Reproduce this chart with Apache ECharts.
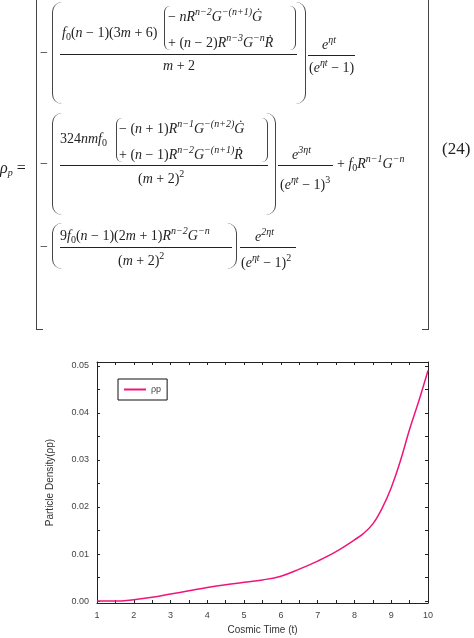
<!DOCTYPE html>
<html><head><meta charset="utf-8">
<script src="https://cdn.jsdelivr.net/npm/echarts@6/dist/echarts.min.js"></script>
<style>
body{margin:0;background:#fff;}
#wrap{position:relative;width:474px;height:638px;overflow:hidden;}
#chart{position:absolute;left:0;top:0;width:474px;height:638px;}
#eq{position:absolute;left:0;top:0;width:474px;height:340px;font-family:"Liberation Serif","DejaVu Serif",serif;font-size:14px;color:#222;z-index:2;}
#eq div{position:absolute;white-space:nowrap;line-height:1;}
.i{font-style:italic;}
sup{font-size:10px;vertical-align:6px;line-height:0;}
sub{font-size:10px;vertical-align:-3px;line-height:0;}
.bar{height:0;border-top:1px solid #222;}
.br{border:1.2px solid #444;}
.par{border:1px solid #444;border-radius:10px;}
</style></head><body>
<div id="wrap">
<div id="chart"></div>
<div id="eq">
  <div class="br" style="left:36px;top:-2px;width:6px;height:330px;border-right:none;"></div>
  <div class="br" style="left:422px;top:-2px;width:6px;height:330px;border-left:none;"></div>
  <div style="left:0;top:160px;font-size:16px;"><span class="i">ρ<sub>p</sub></span> =</div>
  <div style="left:442px;top:140px;font-size:17px;">(24)</div>
  <!-- row 1 -->
  <div style="left:40px;top:46px;">−</div>
  <div class="par" style="left:52px;top:2px;width:252px;height:102px;border-top:none;border-bottom:none;"></div>
  <div style="left:62px;top:26px;"><span class="i">f</span><sub>0</sub>(<span class="i">n</span> − 1)(3<span class="i">m</span> + 6)</div>
  <div class="par" style="left:164px;top:6px;width:130px;height:44px;border-top:none;border-bottom:none;border-radius:6px;"></div>
  <div style="left:168px;top:10px;">− <span class="i">nR<sup>n−2</sup>G<sup>−(n+1)</sup>Ġ</span></div>
  <div style="left:168px;top:36px;">+ (<span class="i">n</span> − 2)<span class="i">R<sup>n−3</sup>G<sup>−n</sup>Ṙ</span></div>
  <div class="bar" style="left:60px;top:54px;width:237px;"></div>
  <div style="left:163px;top:59px;"><span class="i">m</span> + 2</div>
  <div style="left:322px;top:38px;"><span class="i">e<sup>ηt</sup></span></div>
  <div class="bar" style="left:308px;top:55px;width:47px;"></div>
  <div style="left:309px;top:61px;">(<span class="i">e<sup>ηt</sup></span> − 1)</div>
  <!-- row 2 -->
  <div style="left:40px;top:157px;">−</div>
  <div class="par" style="left:52px;top:113px;width:222px;height:102px;border-top:none;border-bottom:none;"></div>
  <div style="left:60px;top:132px;">324<span class="i">nmf</span><sub>0</sub></div>
  <div class="par" style="left:116px;top:118px;width:150px;height:44px;border-top:none;border-bottom:none;border-radius:6px;"></div>
  <div style="left:119px;top:122px;">− (<span class="i">n</span> + 1)<span class="i">R<sup>n−1</sup>G<sup>−(n+2)</sup>Ġ</span></div>
  <div style="left:119px;top:148px;">+ (<span class="i">n</span> − 1)<span class="i">R<sup>n−2</sup>G<sup>−(n+1)</sup>Ṙ</span></div>
  <div class="bar" style="left:60px;top:165px;width:208px;"></div>
  <div style="left:138px;top:172px;">(<span class="i">m</span> + 2)<sup>2</sup></div>
  <div style="left:292px;top:148px;"><span class="i">e<sup>3ηt</sup></span></div>
  <div class="bar" style="left:278px;top:165px;width:55px;"></div>
  <div style="left:280px;top:178px;">(<span class="i">e<sup>ηt</sup></span> − 1)<sup>3</sup></div>
  <div style="left:337px;top:157px;">+ <span class="i">f</span><sub>0</sub><span class="i">R<sup>n−1</sup>G<sup>−n</sup></span></div>
  <!-- row 3 -->
  <div style="left:40px;top:240px;">−</div>
  <div class="par" style="left:52px;top:223px;width:183px;height:46px;border-top:none;border-bottom:none;"></div>
  <div style="left:60px;top:229px;">9<span class="i">f</span><sub>0</sub>(<span class="i">n</span> − 1)(2<span class="i">m</span> + 1)<span class="i">R<sup>n−2</sup>G<sup>−n</sup></span></div>
  <div class="bar" style="left:60px;top:247px;width:172px;"></div>
  <div style="left:118px;top:254px;">(<span class="i">m</span> + 2)<sup>2</sup></div>
  <div style="left:255px;top:230px;"><span class="i">e<sup>2ηt</sup></span></div>
  <div class="bar" style="left:240px;top:247px;width:56px;"></div>
  <div style="left:241px;top:256px;">(<span class="i">e<sup>ηt</sup></span> − 1)<sup>2</sup></div>
</div>
</div>
<script>
const timeValues = [1, 1.5, 2, 2.5, 3, 3.5, 4, 4.5, 5, 5.5, 6, 6.5, 7, 7.5, 8, 8.25, 8.5, 8.75, 9, 9.25, 9.5, 9.75, 10];
const densityValues = [0, 0, 0.0003, 0.0008, 0.0015, 0.0022, 0.0029, 0.0035, 0.004, 0.0045, 0.0053, 0.0068, 0.0085, 0.0105, 0.013, 0.0144, 0.0164, 0.0197, 0.0241, 0.0298, 0.0365, 0.0425, 0.049];
const xTicks = [1, 2, 3, 4, 5, 6, 7, 8, 9, 10];
const xMinorTicks = [1,1.5,2,2.5,3,3.5,4,4.5,5,5.5,6,6.5,7,7.5,8,8.5,9,9.5,10];
const yTicks = [0, 0.01, 0.02, 0.03, 0.04, 0.05];
const yMinorTicks = [0, 0.005, 0.01, 0.015, 0.02, 0.025, 0.03, 0.035, 0.04, 0.045, 0.05];

const chart = echarts.init(document.getElementById('chart'));
const lineCol = '#f0157a';
const axisCol = '#222';
const lbl = {fontFamily:'Liberation Sans, Arial', fontSize:9, color:'#444'};
function xAx(pos, show){
  return {type:'value', position:pos, min:1, max:10,
    axisLine:{show:true,onZero:false,lineStyle:{color:axisCol,width:1}},
    axisTick:{show:true,inside:true,length:3,customValues:xMinorTicks,lineStyle:{color:axisCol}},
    axisLabel:{show:show,customValues:xTicks,margin:8,...lbl},
    splitLine:{show:false},
    name: show ? 'Cosmic Time (t)' : '', nameLocation:'middle', nameGap:22,
    nameTextStyle:{fontFamily:'Liberation Sans, Arial',fontSize:10,color:'#333'}};
}
function yAx(pos, show){
  return {type:'value', position:pos, min:-0.0004, max:0.0508,
    axisLine:{show:true,onZero:false,lineStyle:{color:axisCol,width:1}},
    axisTick:{show:true,inside:true,length:3,customValues:yMinorTicks,lineStyle:{color:axisCol}},
    axisLabel:{show:show,customValues:yTicks,margin:8,formatter:v=>v.toFixed(2),...lbl},
    splitLine:{show:false},
    name: show ? 'Particle Density(ρp)' : '', nameLocation:'middle', nameGap:42,
    nameTextStyle:{fontFamily:'Liberation Sans, Arial',fontSize:10,color:'#333'}};
}
chart.setOption({
  animation:false,
  grid:{left:97,right:46,top:362,bottom:35},
  xAxis:[xAx('bottom',true), xAx('top',false)],
  yAxis:[yAx('left',true), yAx('right',false)],
  legend:{left:118,top:379,itemWidth:22,itemHeight:2,itemGap:4,padding:[6,6,6,6],
    borderColor:'#111',borderWidth:1,
    icon:'rect',
    textStyle:{fontFamily:'Liberation Sans, Arial',fontSize:9,color:'#444'},
    data:['ρp']},
  series:[{name:'ρp', type:'line', smooth:0.4, symbol:'none',
    lineStyle:{color:lineCol,width:1.5}, itemStyle:{color:lineCol},
    data: timeValues.map((t,i)=>[t, densityValues[i]])}]
});
</script>
</body></html>
